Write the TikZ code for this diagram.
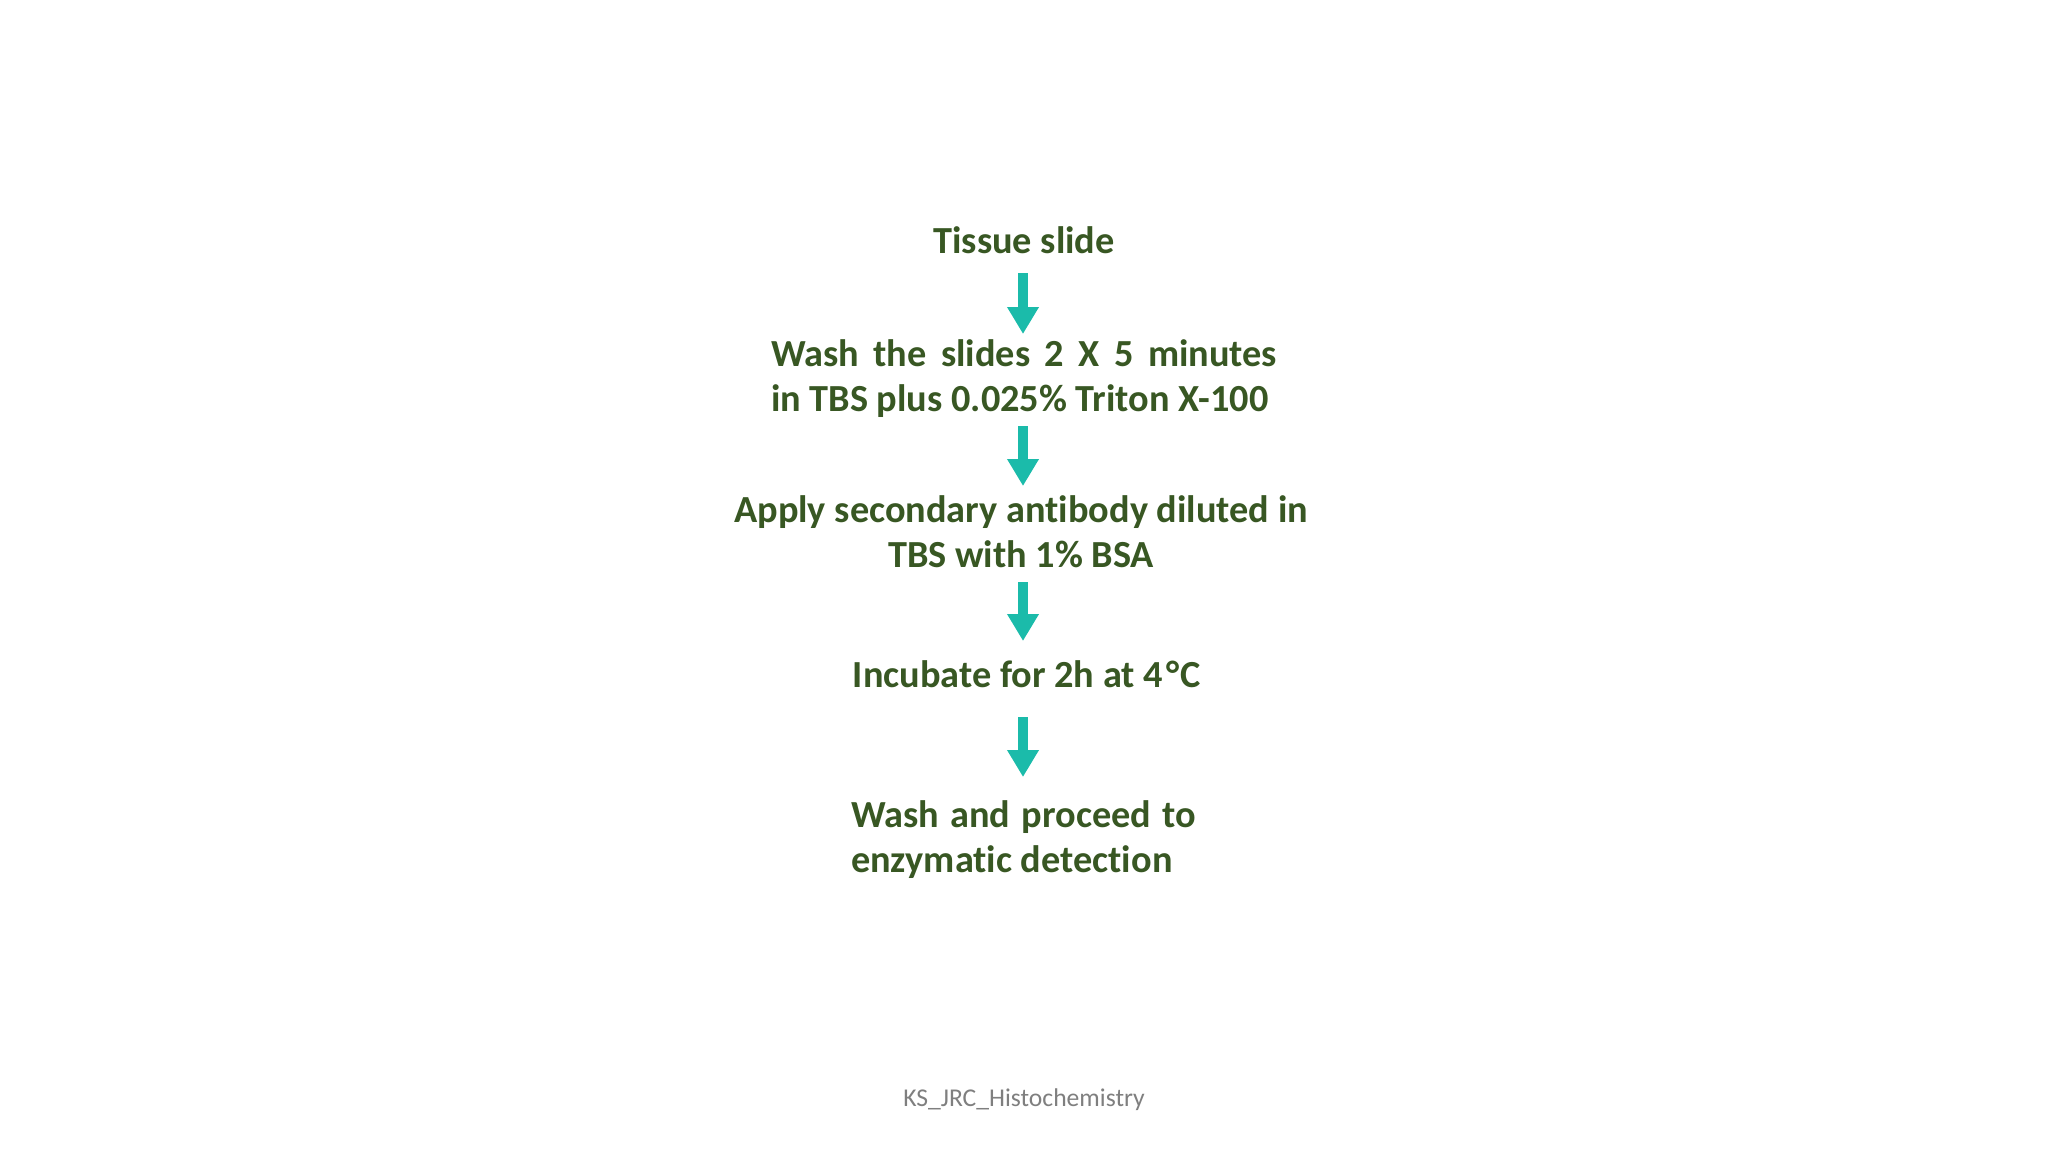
\documentclass[tikz,border=0pt]{standalone}
\usepackage{fontspec}
\setmainfont{Carlito}[Ligatures={NoCommon}]
\usetikzlibrary{arrows.meta}
\definecolor{stepgreen}{HTML}{385723}
\definecolor{arrowteal}{HTML}{1BBBAA}
\definecolor{footgray}{HTML}{7F7F7F}
\tikzset{
  steptext/.style={inner sep=0pt, outer sep=0pt, text=stepgreen,
    font=\fontsize{19.15}{22.5}\selectfont\bfseries},
  flowarrow/.style={draw=arrowteal, line width=5pt,
    -{Triangle[width=15pt,length=13.5pt]}},
  foottext/.style={inner sep=0pt, text=footgray,
    font=\fontsize{12.8}{15}\selectfont}
}
\begin{document}
\begin{tikzpicture}[x=0.5pt,y=-0.5pt]
\useasboundingbox[fill=white] (0,0) rectangle (2048,1152);
% text nodes (base anchor = baseline of last line)
\node[steptext, anchor=base] (n1) at (1024,253) {Tissue slide};
\node[steptext, anchor=base west, align=left] (n2) at (771,411)
  {\makebox[253pt][s]{Wash the slides 2 X 5 minutes}\\in TBS plus 0.025\% Triton X-100};
\node[steptext, anchor=base, align=center] (n3) at (1021,567)
  {Apply secondary antibody diluted in\\TBS with 1\% BSA};
\node[steptext, anchor=base] (n4) at (1027,687) {Incubate for 2h at 4\kern0.08em°\kern0.04em C};
\node[steptext, anchor=base west, align=left] (n5) at (851,872)
  {\makebox[172.5pt][s]{Wash and proceed to}\\enzymatic detection};
\node[foottext, anchor=base] (foot) at (1024,1106) {KS\_JRC\_Histochemistry};
% arrow end points
\coordinate (a1s) at (1023,273); \coordinate (a1e) at (1023,334);
\coordinate (a2s) at (1023,426); \coordinate (a2e) at (1023,486);
\coordinate (a3s) at (1023,582); \coordinate (a3e) at (1023,641);
\coordinate (a4s) at (1023,717); \coordinate (a4e) at (1023,777);
\draw[flowarrow] (a1s) -- (a1e);
\draw[flowarrow] (a2s) -- (a2e);
\draw[flowarrow] (a3s) -- (a3e);
\draw[flowarrow] (a4s) -- (a4e);
\end{tikzpicture}
\end{document}
